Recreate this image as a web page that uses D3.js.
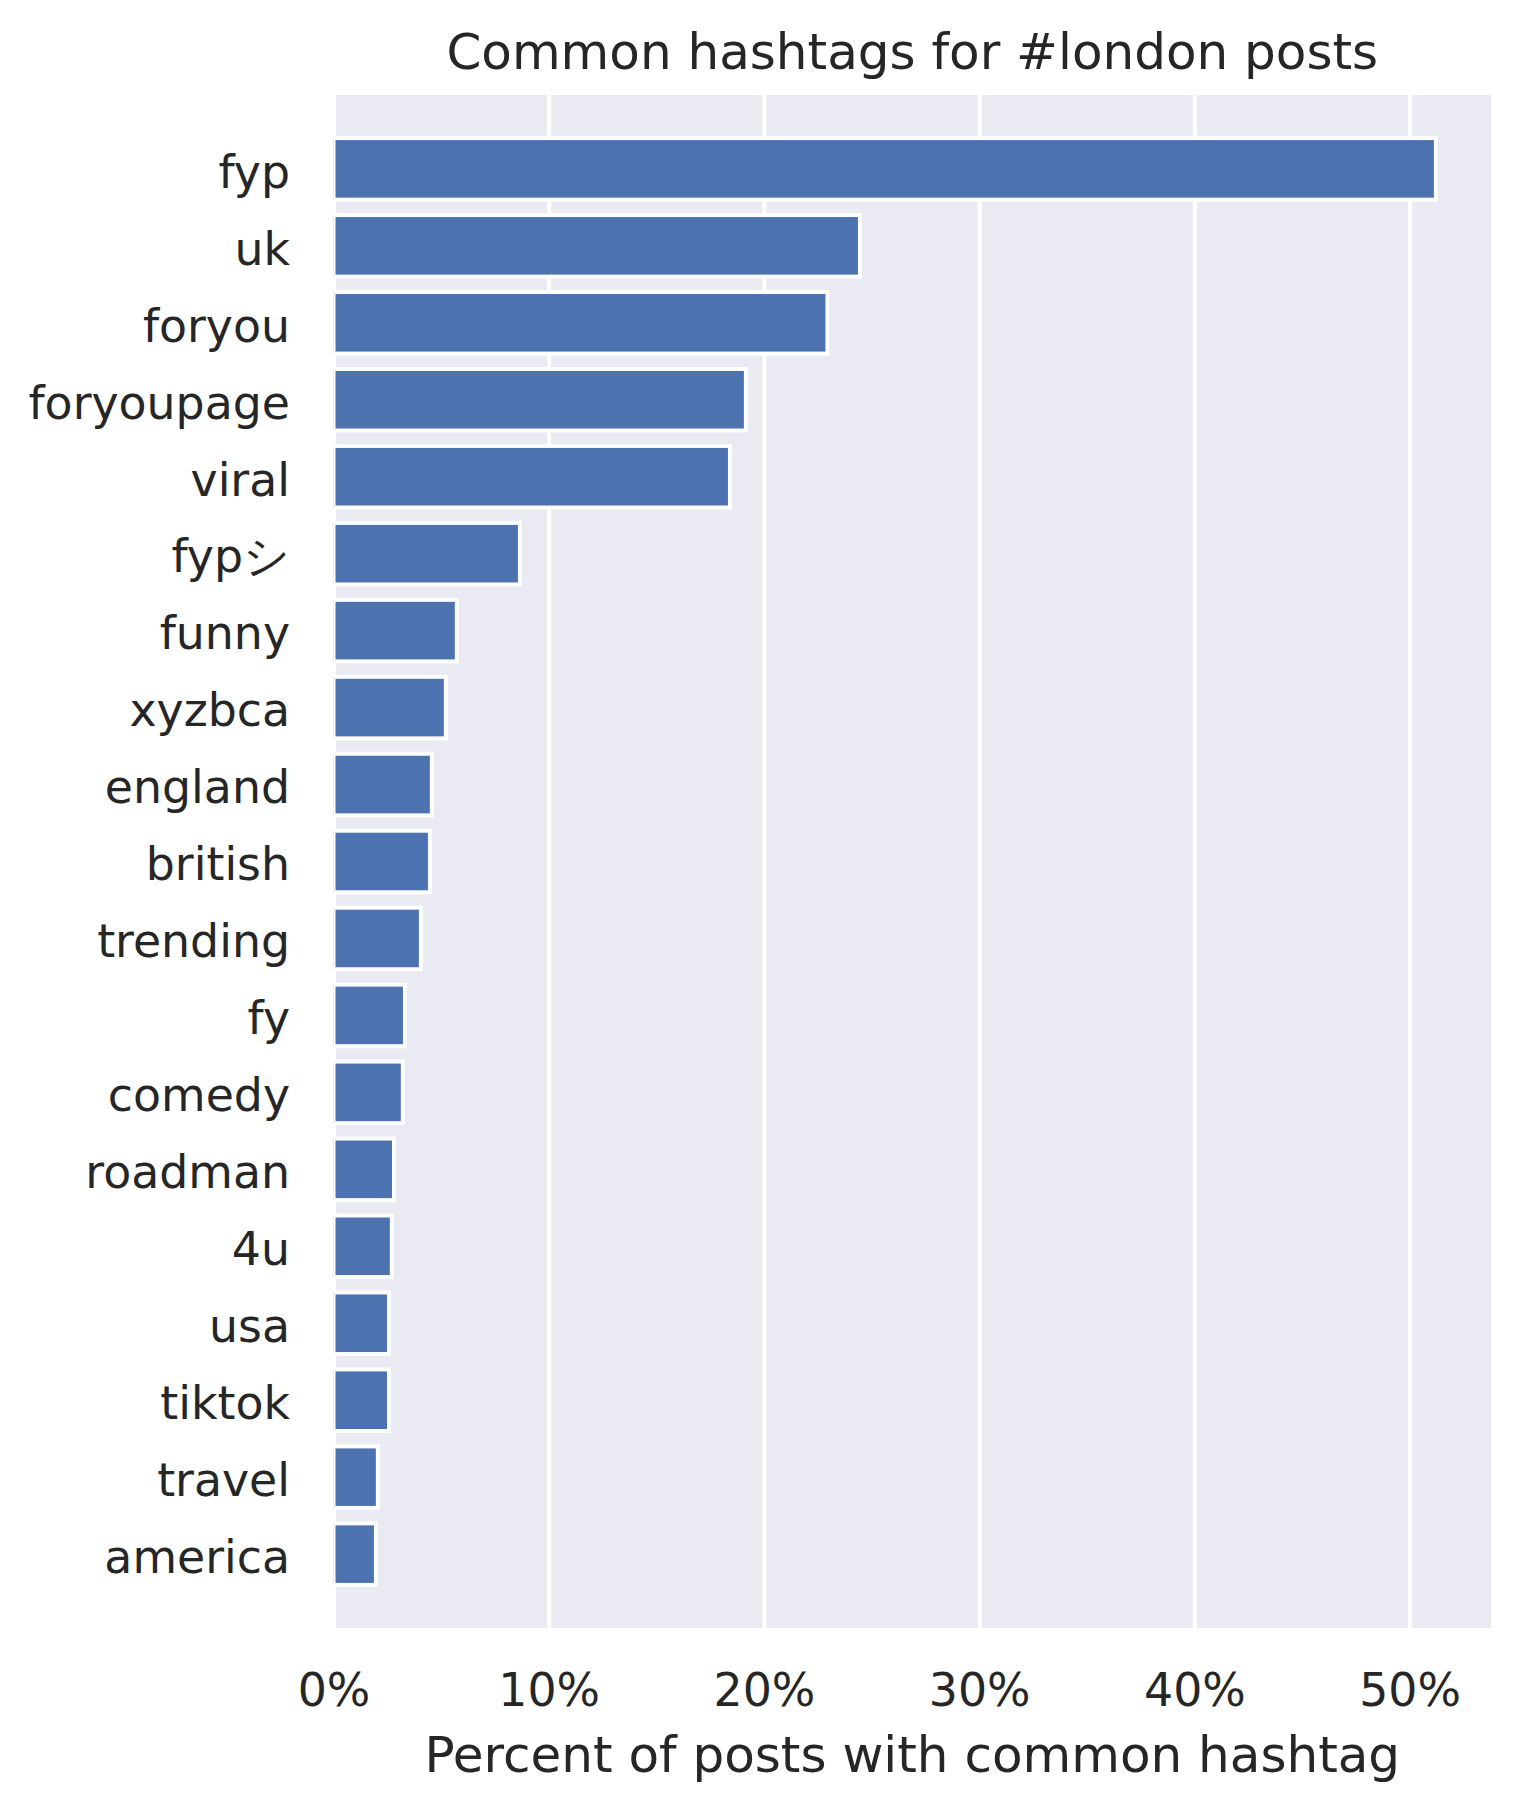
<!DOCTYPE html>
<html>
<head>
<meta charset="utf-8">
<script src="https://cdn.jsdelivr.net/npm/d3@7"></script>
<style>
  body { margin: 0; background: #fff; }
  text { font-family: "DejaVu Sans", sans-serif; fill: #262626; }
</style>
</head>
<body>
<div id="chart"></div>
<script>
// hashtags, top to bottom
const tags = ["fyp", "uk", "foryou", "foryoupage", "viral", "fypシ", "funny", "xyzbca",
  "england", "british", "trending", "fy", "comedy", "roadman", "4u", "usa", "tiktok",
  "travel", "america"];
// percent of posts carrying each hashtag
const shares = [51.22, 24.46, 22.95, 19.16, 18.42, 8.66, 5.73, 5.22, 4.57, 4.48, 4.06,
  3.32, 3.22, 2.81, 2.71, 2.58, 2.58, 2.06, 1.97];
const xTicks = [0, 10, 20, 30, 40, 50];

const W = 1523, H = 1810;
const plot = { left: 333.5, right: 1491, top: 95, bottom: 1628 };

const svg = d3.select("#chart").append("svg")
    .attr("width", W)
    .attr("height", H);

const x = d3.scaleLinear()
    .domain([0, d3.max(shares) * 1.05])
    .range([plot.left, plot.right]);

const y = d3.scaleLinear()
    .domain([-0.96, tags.length - 1 + 0.96])
    .range([plot.top, plot.bottom]);

svg.append("defs").append("clipPath")
    .attr("id", "plotclip")
  .append("rect")
    .attr("x", plot.left)
    .attr("y", plot.top)
    .attr("width", plot.right - plot.left)
    .attr("height", plot.bottom - plot.top);

// background
svg.append("rect")
    .attr("x", plot.left)
    .attr("y", plot.top)
    .attr("width", plot.right - plot.left)
    .attr("height", plot.bottom - plot.top)
    .attr("fill", "#EAEAF2");

// vertical grid
const grid = svg.append("g")
    .attr("transform", "translate(0," + plot.bottom + ")")
    .call(d3.axisBottom(x).tickValues(xTicks).tickSize(-(plot.bottom - plot.top)).tickFormat(""));
grid.select(".domain").remove();
grid.selectAll("line").attr("stroke", "#fff").attr("stroke-width", 4);

// bars
const barH = y(0.4) - y(-0.4);
svg.append("g")
    .attr("clip-path", "url(#plotclip)")
  .selectAll("rect")
  .data(shares)
  .enter()
  .append("rect")
    .attr("x", x(0))
    .attr("y", function(d, i) { return y(i) - barH / 2; })
    .attr("width", function(d) { return x(d) - x(0); })
    .attr("height", barH)
    .attr("fill", "#4C72B0")
    .attr("stroke", "#fff")
    .attr("stroke-width", 4);

// x axis labels
const xAxis = svg.append("g")
    .attr("transform", "translate(0," + plot.bottom + ")")
    .call(d3.axisBottom(x).tickValues(xTicks).tickSize(0).tickPadding(45)
      .tickFormat(function(d) { return d + "%"; }));
xAxis.select(".domain").remove();
xAxis.selectAll("text")
    .attr("font-size", 45.8)
    .attr("font-family", "DejaVu Sans")
    .attr("fill", "#262626");

// y axis labels
const yAxis = svg.append("g")
    .attr("transform", "translate(" + plot.left + ",0)")
    .call(d3.axisLeft(y).tickValues(d3.range(tags.length)).tickSize(0).tickPadding(43.5)
      .tickFormat(function(i) { return tags[i]; }));
yAxis.select(".domain").remove();
yAxis.selectAll("text")
    .attr("dy", "0.4em")
    .attr("font-size", 45.8)
    .attr("font-family", "DejaVu Sans")
    .attr("fill", "#262626");

const midX = (plot.left + plot.right) / 2;

svg.append("text")
    .attr("x", midX)
    .attr("y", 69)
    .attr("text-anchor", "middle")
    .attr("font-size", 50)
    .text("Common hashtags for #london posts");

svg.append("text")
    .attr("x", midX)
    .attr("y", 1772)
    .attr("text-anchor", "middle")
    .attr("font-size", 50)
    .text("Percent of posts with common hashtag");
</script>
</body>
</html>
